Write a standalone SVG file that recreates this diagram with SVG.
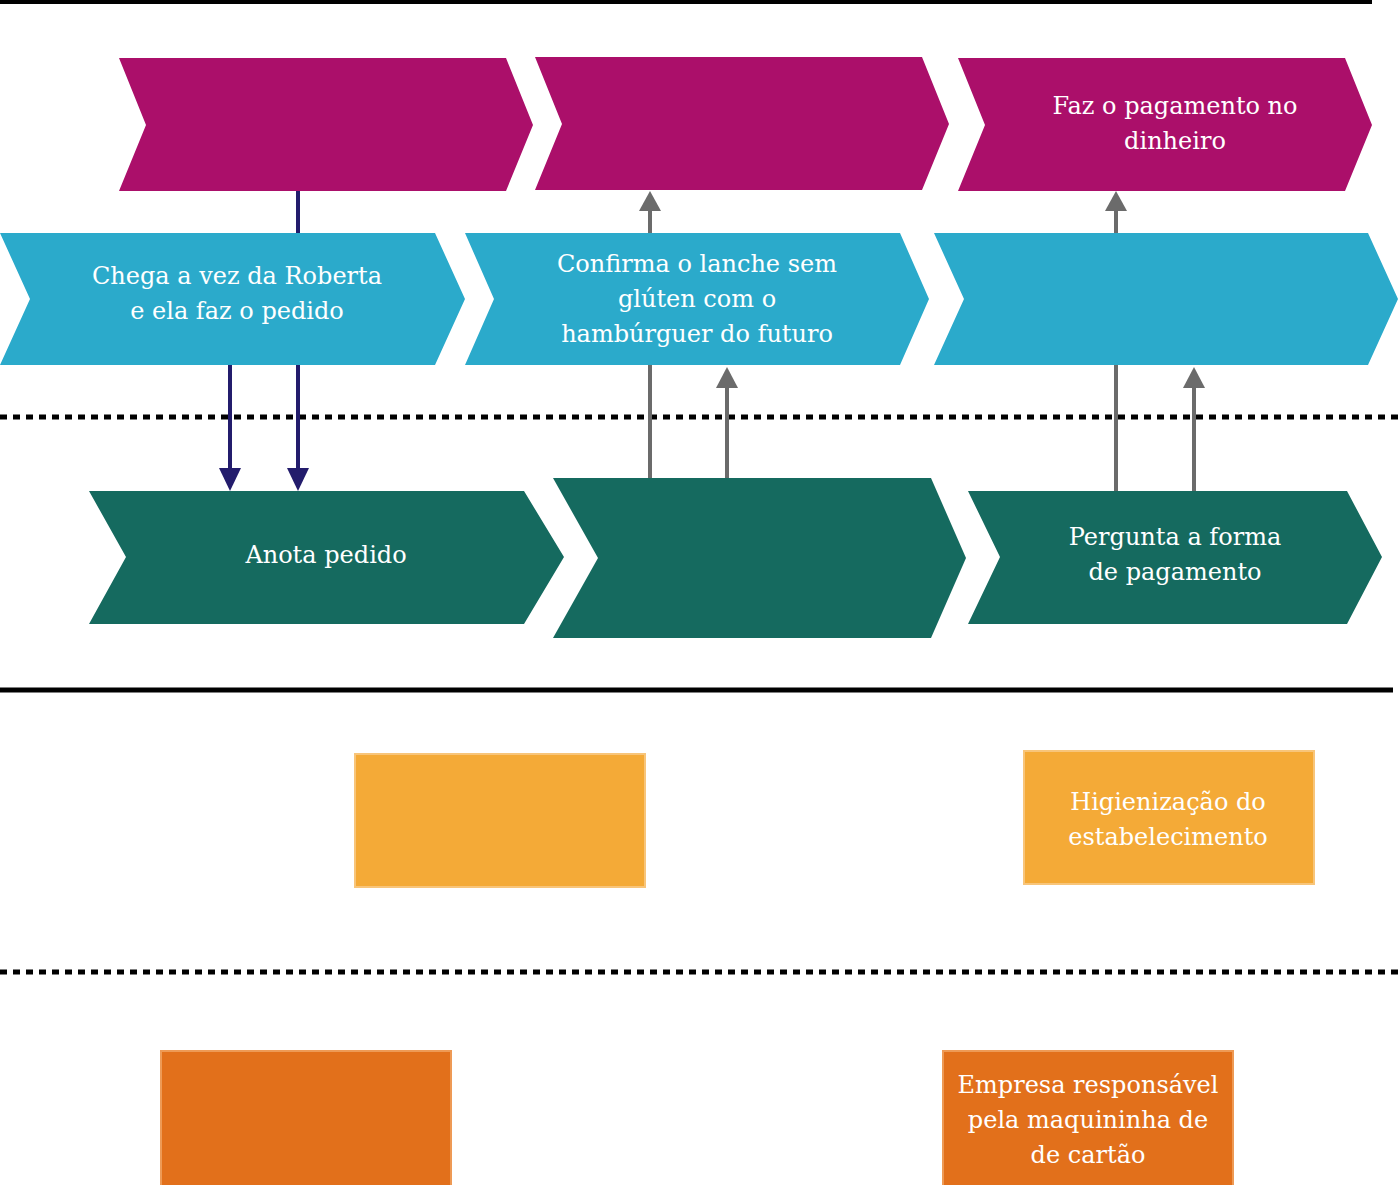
<svg xmlns="http://www.w3.org/2000/svg" width="1400" height="1185" viewBox="0 0 1400 1185">
<style>
.m{fill:#AB0F6A}.c{fill:#2BAACB}.g{fill:#156A5F}
.t{font-family:"DejaVu Serif","Liberation Serif",serif;font-size:24px;fill:#fff;text-anchor:middle}
.y{fill:#F4AA37;stroke:#F8C57A;stroke-width:2}.o{fill:#E2701B;stroke:#EE9A55;stroke-width:2}
.n{stroke:#231C6C;stroke-width:4;fill:none}.gr{stroke:#6B6B6B;stroke-width:4;fill:none}
</style>
<defs>
<marker id="an" markerWidth="6" markerHeight="6" refX="3" refY="5" orient="auto-start-reverse" markerUnits="strokeWidth" viewBox="0 0 6 6"><path d="M0,0 L6,0 L3,6z" fill="#231C6C" transform="rotate(0)"/></marker>
<marker id="ag" markerWidth="6" markerHeight="6" refX="3" refY="5" markerUnits="strokeWidth" viewBox="0 0 6 6"><path d="M0,0 L6,0 L3,6z" fill="#6B6B6B"/></marker>
</defs>
<rect width="1400" height="1185" fill="#fff"/>
<g id="lines">
<line x1="0" y1="2" x2="1372" y2="2" stroke="#000" stroke-width="4"/>
<line x1="0" y1="417" x2="1400" y2="417" stroke="#000" stroke-width="5" stroke-dasharray="7,6"/>
<line x1="0" y1="690" x2="1393" y2="690" stroke="#000" stroke-width="5"/>
<line x1="0" y1="972" x2="1400" y2="972" stroke="#000" stroke-width="5" stroke-dasharray="7,6"/>
</g>
<g id="connectors">
<line class="n" x1="298" y1="191" x2="298" y2="235"/>
<line class="n" x1="298" y1="365" x2="298" y2="480"/>
<path d="M287,468 L309,468 L298,491z" fill="#231C6C"/>
<line class="n" x1="230" y1="365" x2="230" y2="480"/>
<path d="M219,468 L241,468 L230,491z" fill="#231C6C"/>
<line class="gr" x1="650" y1="478" x2="650" y2="365"/>
<line class="gr" x1="650" y1="233" x2="650" y2="205"/>
<path d="M639,211 L661,211 L650,191z" fill="#6B6B6B"/>
<line class="gr" x1="727" y1="478" x2="727" y2="380"/>
<path d="M716,388 L738,388 L727,367z" fill="#6B6B6B"/>
<line class="gr" x1="1116" y1="491" x2="1116" y2="365"/>
<line class="gr" x1="1116" y1="233" x2="1116" y2="205"/>
<path d="M1105,211 L1127,211 L1116,191z" fill="#6B6B6B"/>
<line class="gr" x1="1194" y1="491" x2="1194" y2="380"/>
<path d="M1183,388 L1205,388 L1194,367z" fill="#6B6B6B"/>
</g>
<g id="m1"><polygon class="m" points="119,58 506,58 533,125 506,191 119,191 146,125"/></g>
<g id="m2"><polygon class="m" points="535,57 922,57 949,124 922,190 535,190 562,124"/></g>
<g id="m3"><polygon class="m" points="958,58 1345,58 1372,125 1345,191 958,191 985,125"/>
<text class="t" x="1175" y="114">Faz o pagamento no</text><text class="t" x="1175" y="149">dinheiro</text></g>
<g id="c1"><polygon class="c" points="0,233 435,233 465,299 435,365 0,365 30,299"/>
<text class="t" x="237" y="284">Chega a vez da Roberta</text><text class="t" x="237" y="319">e ela faz o pedido</text></g>
<g id="c2"><polygon class="c" points="465,233 900,233 929,299 900,365 465,365 494,299"/>
<text class="t" x="697" y="272">Confirma o lanche sem</text><text class="t" x="697" y="307">glúten com o</text><text class="t" x="697" y="342">hambúrguer do futuro</text></g>
<g id="c3"><polygon class="c" points="934,233 1368,233 1398,299 1368,365 934,365 964,299"/></g>
<g id="g1"><polygon class="g" points="89,491 524,491 564,557 524,624 89,624 126,557"/>
<text class="t" x="326" y="563">Anota pedido</text></g>
<g id="g2"><polygon class="g" points="553,478 931,478 966,558 931,638 553,638 598,558"/></g>
<g id="g3"><polygon class="g" points="968,491 1347,491 1382,557 1347,624 968,624 1000,557"/>
<text class="t" x="1175" y="545">Pergunta a forma</text><text class="t" x="1175" y="580">de pagamento</text></g>
<g id="y1"><rect class="y" x="355" y="754" width="290" height="133"/></g>
<g id="y2"><rect class="y" x="1024" y="751" width="290" height="133"/>
<text class="t" x="1168" y="810">Higienização do</text><text class="t" x="1168" y="845">estabelecimento</text></g>
<g id="o1"><rect class="o" x="161" y="1051" width="290" height="136"/></g>
<g id="o2"><rect class="o" x="943" y="1051" width="290" height="136"/>
<text class="t" x="1088" y="1093">Empresa responsável</text><text class="t" x="1088" y="1128">pela maquininha de</text><text class="t" x="1088" y="1163">de cartão</text></g>
</svg>
